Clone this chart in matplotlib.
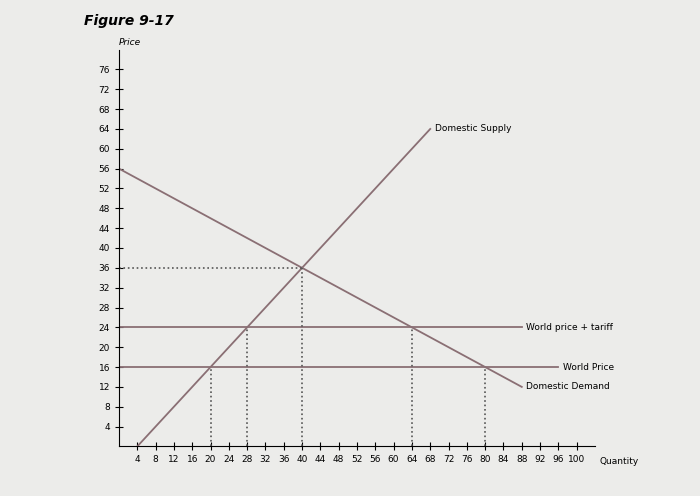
import numpy as np
import matplotlib.pyplot as plt

# values
x_ticks = list(range(4, 101, 4))
y_ticks = list(range(4, 77, 4))
supply_q = [4, 68]
supply_p = [0, 64]
demand_q = [0, 88]
demand_p = [56, 12]
world_price = 16
tariff_price = 24
world_end = 96
tariff_end = 88
eq_q, eq_p = 40, 36
drop_q = [20, 28, 64, 80]
drop_p = [16, 24, 24, 16]

fig, ax = plt.subplots(figsize=(7, 4.96), dpi=100)
fig.patch.set_facecolor('#ececea')
ax.set_facecolor('#ececea')

line_c = '#8a6f74'
ax.plot(supply_q, supply_p, color=line_c, lw=1.3)
ax.plot(demand_q, demand_p, color=line_c, lw=1.3)
ax.plot([0, tariff_end], [tariff_price] * 2, color=line_c, lw=1.3)
ax.plot([0, world_end], [world_price] * 2, color=line_c, lw=1.3)

ax.plot([0, eq_q], [eq_p, eq_p], ls=':', color='#555', lw=1.2)
ax.plot([eq_q, eq_q], [0, eq_p], ls=':', color='#555', lw=1.2)
for q, p in zip(drop_q, drop_p):
    ax.plot([q, q], [0, p], ls=':', color='#555', lw=1.2)

ax.text(supply_q[1] + 1, supply_p[1], 'Domestic Supply', fontsize=6.5, va='center')
ax.text(tariff_end + 1, tariff_price, 'World price + tariff', fontsize=6.5, va='center')
ax.text(world_end + 1, world_price, 'World Price', fontsize=6.5, va='center')
ax.text(demand_q[1] + 1, demand_p[1], 'Domestic Demand', fontsize=6.5, va='center')

ax.set_xlim(0, 104)
ax.set_ylim(0, 80)
ax.set_xticks(x_ticks)
ax.set_yticks(y_ticks)
ax.tick_params(labelsize=6.5, direction='inout', length=6)
for s in ['top', 'right']:
    ax.spines[s].set_visible(False)
ax.text(0, 81, 'Price', fontsize=6.5, style='italic')
ax.text(105, -3.5, 'Quantity', fontsize=6.5)
fig.text(0.12, 0.95, 'Figure 9-17', fontsize=10, style='italic', weight='bold')

plt.subplots_adjust(left=0.17, right=0.85, top=0.9, bottom=0.1)
plt.savefig('out.png')
